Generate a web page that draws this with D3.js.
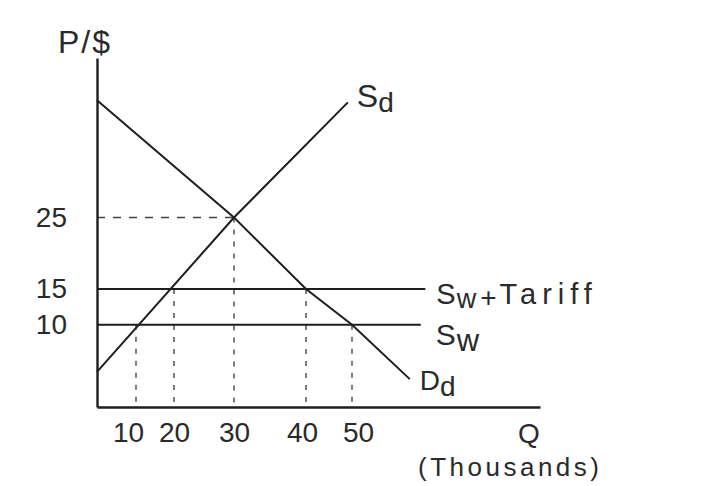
<!DOCTYPE html>
<html>
<head>
<meta charset="utf-8">
<script src="https://cdn.jsdelivr.net/npm/d3@7"></script>
<style>
  html, body { margin: 0; padding: 0; background: #fff; }
  svg { display: block; }
  text { font-family: "Liberation Sans", Arial, sans-serif; fill: #2a2a2a; }
</style>
</head>
<body>
<svg id="chart" width="721" height="486"></svg>
<script>
// ---- data ----
const qTicks = [10, 20, 30, 40, 50];
const pTicks = [10, 15, 25];
const supplyDomestic = [{q: 0, p: 3.4}, {q: 30, p: 25}, {q: 49.1, p: 41.1}];
const demandDomestic = [{q: 0, p: 41.4}, {q: 30, p: 25}, {q: 40, p: 15}, {q: 50, p: 10}, {q: 62.6, p: 2.4}];
const worldSupply = [{q: 0, p: 10}, {q: 65, p: 10}];
const worldSupplyTariff = [{q: 0, p: 15}, {q: 66, p: 15}];
const dropPoints = [{q: 10, p: 10}, {q: 20, p: 15}, {q: 30, p: 25}, {q: 40, p: 15}, {q: 50, p: 10}];
const priceGuide = [{q: 0, p: 25}, {q: 30, p: 25}];

// ---- layout ----
const svg = d3.select("#chart");
// hand-drawn axis: uneven spacing between the Q marks
const x = d3.scaleLinear()
  .domain([0, 10, 20, 30, 40, 50, 91])
  .range([97, 136, 174, 234, 306, 352, 540]);
const y = d3.scaleLinear().domain([-1.5, 47.3]).range([407, 58]);
const pMin = y.domain()[0];

const line = d3.line().x(d => x(d.q)).y(d => y(d.p));
const ink = "#1e1e1e";

// dashed guides
svg.append("path").datum(priceGuide)
  .attr("d", line).attr("fill", "none")
  .attr("stroke", "#444").attr("stroke-width", 1.4).attr("stroke-dasharray", "8,8");
svg.selectAll(".drop").data(dropPoints).join("line")
  .attr("class", "drop")
  .attr("x1", d => x(d.q)).attr("x2", d => x(d.q))
  .attr("y1", d => y(d.p)).attr("y2", y(pMin))
  .attr("stroke", "#444").attr("stroke-width", 1.4).attr("stroke-dasharray", "5,7");

// axes
const labelNudge = {10: -8, 40: -4, 50: 6};
const xAxis = d3.axisBottom(x).tickValues(qTicks).tickSize(0).tickPadding(15).tickSizeOuter(0);
const gx = svg.append("g").attr("transform", `translate(0,${y(pMin)})`).call(xAxis);
gx.select(".domain").attr("stroke", ink).attr("stroke-width", 2.4);
gx.selectAll("text").attr("font-size", 28).attr("font-family", "Liberation Sans, Arial, sans-serif")
  .attr("fill", "#2a2a2a").attr("dx", d => labelNudge[d] || 0);

const yAxis = d3.axisLeft(y).tickValues(pTicks).tickSize(0).tickPadding(30).tickSizeOuter(0);
const gy = svg.append("g").attr("transform", `translate(${x(0)},0)`).call(yAxis);
gy.select(".domain").attr("stroke", ink).attr("stroke-width", 2.4);
gy.selectAll("text").attr("font-size", 28).attr("font-family", "Liberation Sans, Arial, sans-serif").attr("fill", "#2a2a2a");

// curves
[supplyDomestic, demandDomestic, worldSupply, worldSupplyTariff].forEach(s => {
  svg.append("path").datum(s).attr("d", line)
    .attr("fill", "none").attr("stroke", ink).attr("stroke-width", 2);
});

// curve labels
function label(pt, dx, dy, parts) {
  const t = svg.append("text").attr("x", x(pt.q) + dx).attr("y", y(pt.p) + dy);
  parts.forEach(p => {
    t.append("tspan").attr("font-size", p.size).attr("dy", p.dy || 0)
      .attr("letter-spacing", p.ls || 0).text(p.t);
  });
}
const last = a => a[a.length - 1];
label(last(supplyDomestic), 9, 5, [{t: "S", size: 32}, {t: "d", size: 28, dy: 5}]);
label(last(worldSupplyTariff), 11, 15, [
  {t: "S", size: 29, ls: 1}, {t: "w", size: 27, dy: 4, ls: 4},
  {t: "+", size: 28, dy: -1, ls: 3}, {t: "Tariff", size: 29, dy: -3, ls: 6}]);
label(last(worldSupply), 15, 20, [{t: "S", size: 30, ls: 1}, {t: "w", size: 31, dy: 6}]);
label(last(demandDomestic), 10, 11, [{t: "D", size: 28}, {t: "d", size: 28, dy: 6}]);

// axis titles
svg.append("text").attr("x", 58).attr("y", 53).attr("font-size", 32).attr("letter-spacing", 2).text("P/$");
svg.append("text").attr("x", 518).attr("y", 443).attr("font-size", 28).text("Q");
svg.append("text").attr("x", 418).attr("y", 476).attr("font-size", 26).attr("letter-spacing", 3.5).text("(Thousands)");
</script>
</body>
</html>
